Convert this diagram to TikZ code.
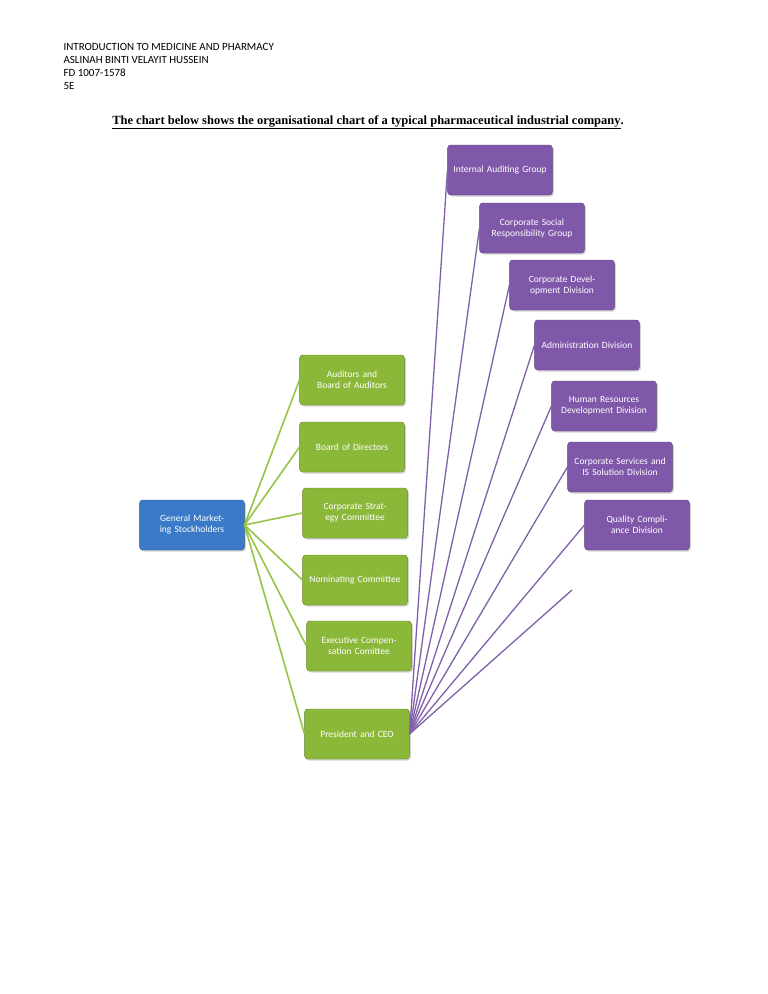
\documentclass[tikz,border=0pt]{standalone}
\usepackage{fontspec}
\setmainfont{Carlito}
\newfontfamily\titlefont{Liberation Serif}
\usetikzlibrary{shadows}
\definecolor{rootcolor}{RGB}{58,122,200}
\definecolor{greencolor}{RGB}{140,184,58}
\definecolor{purplecolor}{RGB}{128,88,170}
\definecolor{greenline}{RGB}{150,196,70}
\definecolor{purpleline}{RGB}{128,96,168}
\tikzset{
  box/.style={draw=#1!70!black, fill=#1, rounded corners=3pt, minimum width=103pt,
    minimum height=50pt, text width=98pt, align=center, text=white, font=\fontsize{9.5}{11}\selectfont,
    drop shadow={opacity=0.35, shadow xshift=1.5pt, shadow yshift=-1.5pt}},
  gline/.style={greenline, line width=1.6pt},
  pline/.style={purpleline, line width=1.3pt}
}
\begin{document}
\begin{tikzpicture}[x=1pt,y=-1pt]
  \useasboundingbox (0,0) rectangle (768,994);

  % Header
  \node[anchor=west, font=\fontsize{11}{13}\selectfont, align=left] (head) at (60,66)
    {INTRODUCTION TO MEDICINE AND PHARMACY\\ASLINAH BINTI VELAYIT HUSSEIN\\FD 1007-1578\\5E};
  \node[font=\titlefont\bfseries\fontsize{12.5}{14}\selectfont] (title) at (368,122)
    {\underline{The chart below shows the organisational chart of a typical pharmaceutical industrial company}.};

  % Root and committees
  \node[box=rootcolor] (gm) at (192,525) {General Marketing Stockholders};
  \node[box=greencolor] (aud) at (352,380) {Auditors and Board of Auditors};
  \node[box=greencolor] (bod) at (352,447) {Board of Directors};
  \node[box=greencolor] (csc) at (355,513) {Corporate Strategy Committee};
  \node[box=greencolor] (nom) at (355,580) {Nominating Committee};
  \node[box=greencolor] (exe) at (359,646) {Executive Compensation Comittee};
  \node[box=greencolor] (ceo) at (357,734) {President and CEO};

  % Divisions
  \node[box=purplecolor] (iag) at (500,170) {Internal Auditing Group};
  \node[box=purplecolor] (csr) at (532,228) {Corporate Social Responsibility Group};
  \node[box=purplecolor] (cdd) at (562,285) {Corporate Development Division};
  \node[box=purplecolor] (adm) at (587,345) {Administration Division};
  \node[box=purplecolor] (hrd) at (604,406) {Human Resources Development Division};
  \node[box=purplecolor] (csi) at (620,467) {Corporate Services and IS Solution Division};
  \node[box=purplecolor] (qcd) at (637,525) {Quality Compliance Division};
  \coordinate (free) at (572,590);

  % Connectors
  \begin{scope}[on background layer/.try]
  \foreach \n in {aud,bod,csc,nom,exe,ceo}
    \draw[gline] (gm.east) -- (\n.west);
  \foreach \n in {iag,csr,cdd,adm,hrd,csi,qcd}
    \draw[pline] (ceo.east) -- (\n.west);
  \draw[pline] (ceo.east) -- (free);
  \end{scope}
\end{tikzpicture}
\end{document}
